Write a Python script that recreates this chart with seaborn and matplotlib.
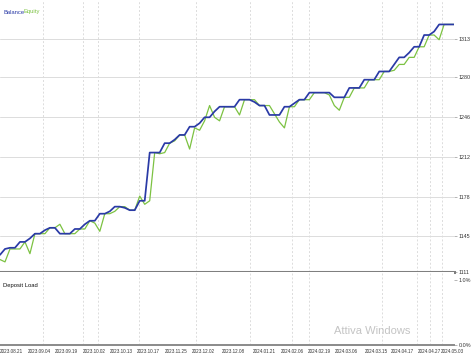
import matplotlib
matplotlib.use("Agg")
import matplotlib.pyplot as plt
import matplotlib.font_manager as fm
import seaborn as sns
import pandas as pd

# ---------------- data ----------------
balance = [1129, 1134, 1135, 1135, 1140, 1140, 1143, 1147, 1147, 1150,
           1152, 1152, 1147, 1147, 1147, 1151, 1151, 1155, 1158, 1158,
           1164, 1164, 1166, 1170, 1170, 1169, 1167, 1167, 1175, 1175,
           1216, 1216, 1216, 1224, 1224, 1227, 1231, 1231, 1238, 1238,
           1241, 1246, 1246, 1251, 1255, 1255, 1255, 1255, 1261, 1261,
           1261, 1259, 1256, 1256, 1248, 1248, 1248, 1255, 1255, 1258,
           1261, 1261, 1267, 1267, 1267, 1267, 1267, 1263, 1263, 1263,
           1271, 1271, 1271, 1278, 1278, 1278, 1285, 1285, 1285, 1291,
           1297, 1297, 1301, 1306, 1306, 1316, 1316, 1319, 1325, 1325,
           1325, 1325]
equity = [1125, 1123, 1134, 1134, 1134, 1140, 1130, 1147, 1147, 1147,
          1152, 1152, 1155, 1147, 1147, 1147, 1151, 1151, 1158, 1156,
          1149, 1164, 1164, 1166, 1170, 1170, 1167, 1167, 1179, 1172,
          1175, 1216, 1215, 1216, 1224, 1226, 1231, 1231, 1219, 1237,
          1235, 1243, 1256, 1246, 1243, 1255, 1255, 1255, 1248, 1261,
          1261, 1261, 1256, 1256, 1256, 1249, 1242, 1237, 1255, 1255,
          1261, 1261, 1261, 1267, 1267, 1267, 1265, 1256, 1252, 1263,
          1263, 1271, 1271, 1271, 1278, 1278, 1278, 1285, 1285, 1286,
          1291, 1291, 1297, 1297, 1306, 1306, 1316, 1316, 1312, 1325,
          1325, 1325]
trade_index = list(range(len(balance)))

y_tick_values = [1114.4, 1145, 1178, 1212, 1246, 1280, 1313]
y_tick_labels = ["1111", "1145", "1178", "1212", "1246", "1280", "1313"]

x_tick_positions = [2.2, 7.8, 13.4, 19, 24.4, 29.8, 35.4, 40.8, 46.8, 53,
                    58.6, 64, 69.4, 75.4, 80.6, 86, 90.6]
x_tick_labels = ["2023.08.21", "2023.09.04", "2023.09.19", "2023.10.02",
                 "2023.10.13", "2023.10.17", "2023.11.25", "2023.12.02",
                 "2023.12.08", "2024.01.21", "2024.02.06", "2024.02.19",
                 "2024.03.06", "2024.03.15", "2024.04.17", "2024.04.27",
                 "2024.05.03"]
x_grid_positions = [8.6, 16.6, 19.6, 27.8, 39.2, 50, 58.6, 62, 76.6, 83.6,
                    86.2, 88.6]

load_ticks = [0, 1]
load_labels = ["0.0%", "1.0%"]

# ---------------- style ----------------
sns.set_style("white")
names = {f.name for f in fm.fontManager.ttflist}
narrow = "Liberation Sans Narrow" if "Liberation Sans Narrow" in names else "Liberation Sans"
plt.rcParams["font.family"] = [narrow, "DejaVu Sans"]

BLUE = "#2a3aa6"
GREEN = "#7cc242"
GRID = "#dcdcdc"

df = pd.DataFrame({"idx": trade_index, "Balance": balance, "Equity": equity})

fig = plt.figure(figsize=(4.74, 3.55), dpi=100)
ax = fig.add_axes([0.0, 0.2338, 0.958, 0.7662])
ax2 = fig.add_axes([0.0, 0.0282, 0.958, 0.2056])

sns.lineplot(data=df, x="idx", y="Equity", ax=ax, color=GREEN, lw=0.9,
             sort=False, legend=False)
sns.lineplot(data=df, x="idx", y="Balance", ax=ax, color=BLUE, lw=1.25,
             sort=False, legend=False)

for a in (ax, ax2):
    a.set_xlim(0, 91)
    a.set_xlabel("")
    a.set_ylabel("")
    for xg in x_grid_positions:
        a.axvline(xg, color=GRID, lw=0.7, ls=(0, (2, 2)), zorder=0)
    for s in ("left", "right", "top"):
        a.spines[s].set_visible(False)

ax.set_ylim(1114.4, 1345.8)
ax.set_yticks(y_tick_values)
ax.set_yticklabels(y_tick_labels)
for yv in y_tick_values[1:]:
    ax.axhline(yv, color=GRID, lw=0.7, zorder=0)
ax.yaxis.tick_right()
ax.tick_params(axis="y", length=2.5, width=0.5, color="#999999", labelsize=3.9,
               pad=1, labelcolor="#333333")
ax.set_xticks([])
ax.spines["bottom"].set_color("#7f7f7f")
ax.spines["bottom"].set_linewidth(2.2)

ax2.set_ylim(0, 1.12)
ax2.set_yticks(load_ticks)
ax2.set_yticklabels(load_labels)
ax2.yaxis.tick_right()
ax2.tick_params(axis="y", length=2.5, width=0.5, color="#999999", labelsize=3.9,
                pad=1, labelcolor="#333333")
ax2.set_xticks(x_tick_positions)
ax2.set_xticklabels(x_tick_labels)
ax2.tick_params(axis="x", length=2, width=0.5, color="#999999", labelsize=3.3,
                pad=1, labelcolor="#333333")
ax2.spines["bottom"].set_color("#8a8a8a")
ax2.spines["bottom"].set_linewidth(1.4)

# legend-like labels
fig.text(3 / 474, 1 - 12 / 355, "Balance", color=BLUE, fontsize=4.2,
         va="center", ha="left")
fig.text(23.5 / 474, 1 - 12 / 355, "Equity", color=GREEN, fontsize=4.2,
         va="center", ha="left")
fig.text(3 / 474, 1 - 285 / 355, "Deposit Load", color="#111111",
         fontsize=4.2, va="center", ha="left")

# watermark
fig.text(372 / 474, 1 - 331 / 355, "Attiva Windows", color="#c4c4c4",
         fontsize=8, va="center", ha="center")

fig.savefig("out.png", dpi=100)
